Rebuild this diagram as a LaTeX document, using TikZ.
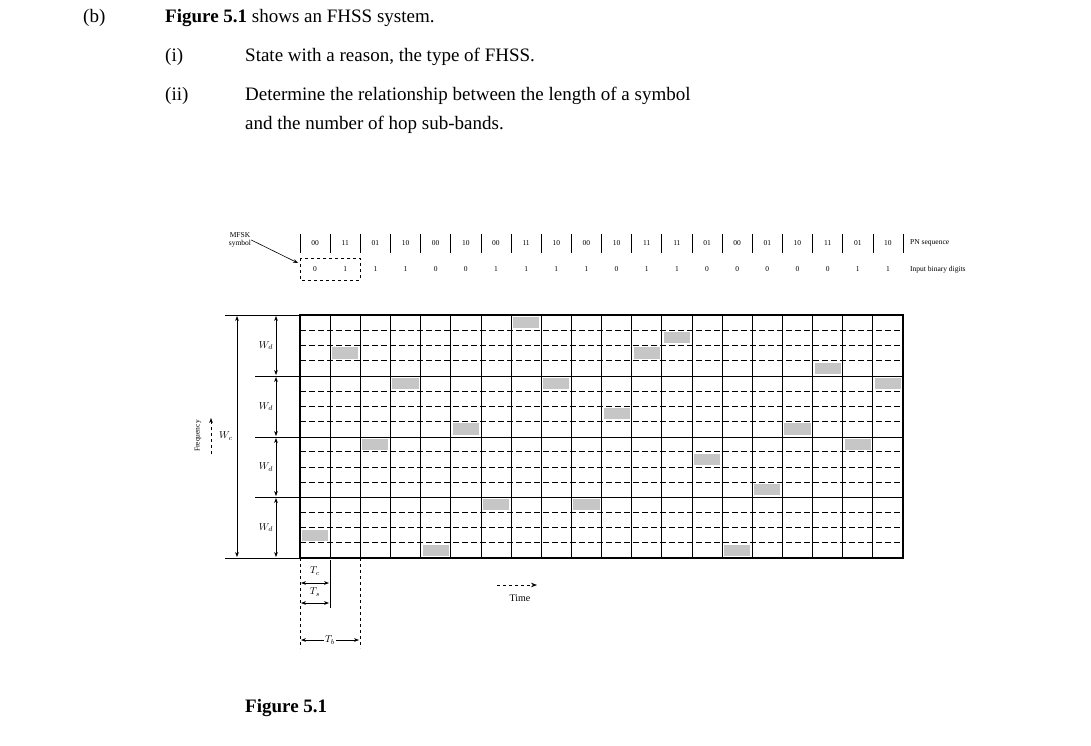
\documentclass[tikz,border=0pt]{standalone}
\usepackage{fontspec}
\setmainfont{Liberation Serif}
\usetikzlibrary{arrows.meta}
\begin{document}
\begin{tikzpicture}[x=1pt,y=-1pt,
  big/.style={font=\fontsize{19}{23}\selectfont,anchor=west,inner sep=0},
  tiny/.style={font=\fontsize{7.5}{8.5}\selectfont,inner sep=0},
  lab/.style={font=\fontsize{10}{11}\selectfont,inner sep=1pt},
  dim/.style={{Stealth[length=5pt]}-{Stealth[length=5pt]},line width=0.7pt},
  shade/.style={fill=gray!45}]
\useasboundingbox (0,0) rectangle (1091,746);
\node[big] (b) at (83,18) {(b)};
\node[big] (t1) at (165,18) {\textbf{Figure 5.1} shows an FHSS system.};
\node[big] (i) at (165,57) {(i)};
\node[big] (t2) at (245,57) {State with a reason, the type of FHSS.};
\node[big] (ii) at (165,96) {(ii)};
\node[big] (t3) at (245,96) {Determine the relationship between the length of a symbol};
\node[big] (t4) at (245,125) {and the number of hop sub-bands.};
\node[big] (cap) at (245,708) {\textbf{Figure 5.1}};
% shaded cells
\def\cw{30.15}\def\rh{15.1875}
\foreach \c/\r in {0/14,1/2,2/8,3/4,4/15,5/7,6/12,7/0,8/4,9/12,10/6,11/2,12/1,13/9,14/15,15/11,16/7,17/3,18/8,19/4}
  \fill[gray!45] ({300+\c*\cw+2},{315+\r*\rh+2}) rectangle ({300+(\c+1)*\cw-2},{315+(\r+1)*\rh-2});
% grid
\foreach \r in {1,2,3,5,6,7,9,10,11,13,14,15}
  \draw[line width=0.7pt,dash pattern=on 6pt off 3pt] (300,{315+\r*\rh}) -- (903,{315+\r*\rh});
\foreach \c in {1,...,19}
  \draw[line width=0.8pt] ({300+\c*\cw},315) -- ({300+\c*\cw},558);
\foreach \y in {376,437,497} \draw[line width=0.8pt] (255,\y) -- (903,\y);
\draw[line width=1.4pt] (300,315) rectangle (903,558);
\draw[line width=0.8pt] (225,315) -- (300,315);
\draw[line width=0.8pt] (225,558) -- (300,558);
% sequences
\foreach \s [count=\k from 0] in {00,11,01,10,00,10,00,11,10,00,10,11,11,01,00,01,10,11,01,10}
  \node[tiny] (pn\k) at ({300+(\k+0.5)*\cw},243) {\s};
\foreach \k in {0,...,20}
  \draw[line width=0.7pt] ({300+\k*\cw},234) -- ({300+\k*\cw},253);
\foreach \s [count=\k from 0] in {0,1,1,1,0,0,1,1,1,1,0,1,1,0,0,0,0,0,1,1}
  \node[tiny] (bd\k) at ({300+(\k+0.5)*\cw},269) {\s};
\node[tiny,anchor=west] (pnl) at (910,243) {PN sequence};
\node[tiny,anchor=west] (bdl) at (910,270) {Input binary digits};
\draw[dashed,line width=0.8pt] (300,258) rectangle (360,280);
\node[tiny,align=center] (mf) at (240,240) {MFSK\\symbol};
\coordinate (mfe) at (298,263);
\draw[-{Stealth[length=5pt]},line width=0.6pt] (mf.east) -- (mfe);
% left dims
\draw[dim] (237,316) -- (237,557);
\node[lab,fill=white] (wc) at (226,436) {$W_c$};
\foreach \a/\bb in {315/376,376/437,437/497,497/558}
  {\draw[dim] (276,\a+1) -- (276,\bb-1);
   \node[lab,fill=white] at (266,{(\a+\bb)/2}) {$W_d$};}
\node[tiny,rotate=90] (fq) at (198,436) {Frequency};
\coordinate (fa) at (211,454);\coordinate (fb) at (211,418);
\draw[dashed,-{Stealth[length=5pt]},line width=0.6pt] (fa) -- (fb);
% bottom dims
\draw[dashed,line width=0.6pt] (300,558) -- (300,648);
\draw[dashed,line width=0.6pt] (360,558) -- (360,648);
\draw[line width=0.8pt] (330,560) -- (330,608);
\draw[dim] (301,583) -- (329,583);
\node[lab] at (315,571) {$T_c$};
\draw[dim] (301,603) -- (329,603);
\node[lab] at (315,592) {$T_s$};
\draw[dim] (301,640) -- (359,640);
\node[lab,fill=white] at (330,640) {$T_b$};
\coordinate (ta) at (497,585);\coordinate (tb) at (537,585);
\draw[dashed,-{Stealth[length=6pt]},line width=0.7pt] (ta) -- (tb);
\node[lab] (tm) at (520,598) {Time};
\end{tikzpicture}
\end{document}
